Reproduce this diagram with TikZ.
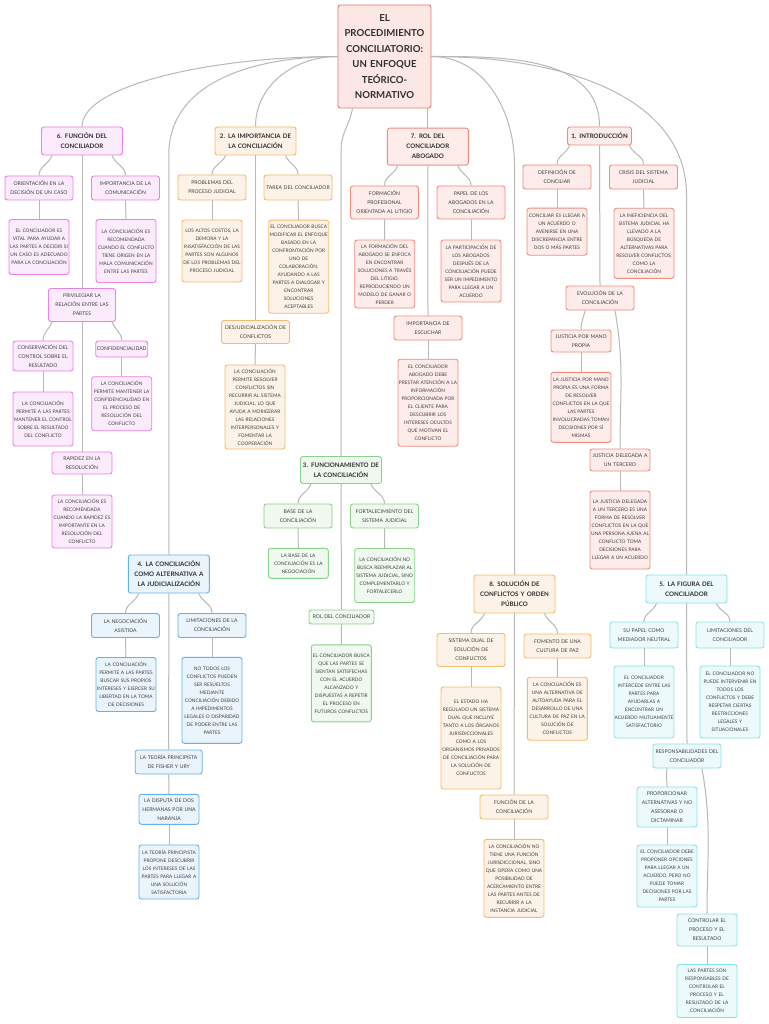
\documentclass[tikz,border=0pt]{standalone}
\usepackage{fontspec}
\setmainfont{Lato}
\definecolor{rootline}{HTML}{E97670}
\definecolor{rootfill}{HTML}{FDE7E4}
\definecolor{pkline}{HTML}{E882E4}
\definecolor{pkfill}{HTML}{FCEBFC}
\definecolor{orline}{HTML}{F6BA6E}
\definecolor{orfill}{HTML}{FDF2E7}
\definecolor{rdline}{HTML}{EE8C7E}
\definecolor{rdfill}{HTML}{FDECE9}
\definecolor{blline}{HTML}{66B0EA}
\definecolor{blfill}{HTML}{EAF4FC}
\definecolor{grline}{HTML}{8BD08C}
\definecolor{grfill}{HTML}{EFF9EF}
\definecolor{cyline}{HTML}{8AE2E6}
\definecolor{cyfill}{HTML}{ECFAFB}
\definecolor{linkgray}{HTML}{B8B8B8}
\definecolor{textdark}{HTML}{2E2E2E}
\definecolor{textgray}{HTML}{404040}

\begin{document}
\begin{tikzpicture}[x=1pt,y=1pt]
    \fill[white] (0,0) rectangle (768,-1024);
    \useasboundingbox (0,0) rectangle (768,-1024);

    \tikzstyle{box}=[draw, rounded corners=2.5pt, line width=0.9pt, align=center, inner sep=0pt]
    \tikzstyle{root}=[box, draw=rootline, fill=rootfill, text=textdark, font=\fontsize{9.6}{15.5}\selectfont\bfseries, minimum width=93, minimum height=103, text width=91]
    \tikzstyle{head}=[box, text=textdark, font=\fontsize{6.2}{10}\selectfont\bfseries, minimum width=81, text width=80]
    \tikzstyle{item}=[box, text=textgray, font=\fontsize{5.1}{9}\selectfont, minimum width=68, text width=67]
    \tikzstyle{sub}=[item, minimum width=60, text width=59]
    \tikzstyle{note}=[box, text=textgray, font=\fontsize{4.8}{8}\selectfont, minimum width=60, text width=59]
    \tikzstyle{pk}=[draw=pkline, fill=pkfill]
    \tikzstyle{or}=[draw=orline, fill=orfill]
    \tikzstyle{rd}=[draw=rdline, fill=rdfill]
    \tikzstyle{bl}=[draw=blline, fill=blfill]
    \tikzstyle{gr}=[draw=grline, fill=grfill]
    \tikzstyle{cy}=[draw=cyline, fill=cyfill]
    \tikzstyle{link}=[draw=linkgray, line width=1pt]

    \node[root] (root) at (384.5,-56.5) {EL\\PROCEDIMIENTO\\CONCILIATORIO:\\UN ENFOQUE\\TEÓRICO-\\NORMATIVO};

    % 6
    \node[head, pk, minimum height=28] (h6) at (82,-141) {6. FUNCIÓN DEL\\CONCILIADOR};
    \node[item, pk, minimum height=24] (o6a) at (39,-188) {ORIENTACIÓN EN LA\\DECISIÓN DE UN CASO};
    \node[note, pk, minimum height=55] (d6a) at (39,-247) {EL CONCILIADOR ES\\VITAL PARA AYUDAR A\\LAS PARTES A DECIDIR SI\\UN CASO ES ADECUADO\\PARA LA CONCILIACIÓN};
    \node[item, pk, minimum height=24] (o6b) at (125.5,-188) {IMPORTANCIA DE LA\\COMUNICACIÓN};
    \node[note, pk, minimum height=63] (d6b) at (126,-251) {LA CONCILIACIÓN ES\\RECOMENDADA\\CUANDO EL CONFLICTO\\TIENE ORIGEN EN LA\\MALA COMUNICACIÓN\\ENTRE LAS PARTES};
    \node[item, pk, minimum width=67, minimum height=33] (o6c) at (82,-305) {PRIVILEGIAR LA\\RELACIÓN ENTRE LAS\\PARTES};
    \node[sub, pk, minimum height=30] (p6a) at (43,-356) {CONSERVACIÓN DEL\\CONTROL SOBRE EL\\RESULTADO};
    \node[note, pk, minimum height=54] (d6c) at (43,-419) {LA CONCILIACIÓN\\PERMITE A LAS PARTES\\MANTENER EL CONTROL\\SOBRE EL RESULTADO\\DEL CONFLICTO};
    \node[sub, pk, minimum width=52, text width=51, minimum height=16] (p6b) at (121.7,-349) {CONFIDENCIALIDAD};
    \node[note, pk, minimum height=54] (d6d) at (121.7,-403.7) {LA CONCILIACIÓN\\PERMITE MANTENER LA\\CONFIDENCIALIDAD EN\\EL PROCESO DE\\RESOLUCIÓN DEL\\CONFLICTO};
    \node[sub, pk, minimum height=22] (p6c) at (82,-463) {RAPIDEZ EN LA\\RESOLUCIÓN};
    \node[note, pk, minimum height=53] (d6e) at (82,-521.5) {LA CONCILIACIÓN ES\\RECOMENDADA\\CUANDO LA RAPIDEZ ES\\IMPORTANTE EN LA\\RESOLUCIÓN DEL\\CONFLICTO};

    % 2
    \node[head, or, minimum height=28] (h2) at (255.5,-141) {2. LA IMPORTANCIA DE\\LA CONCILIACIÓN};
    \node[item, or, minimum height=25] (o2a) at (212,-187.5) {PROBLEMAS DEL\\PROCESO JUDICIAL};
    \node[note, or, minimum height=62] (d2a) at (212,-251) {LOS ALTOS COSTOS, LA\\DEMORA Y LA\\INSATISFACCIÓN DE LAS\\PARTES SON ALGUNOS\\DE LOS PROBLEMAS DEL\\PROCESO JUDICIAL};
    \node[item, or, minimum height=25] (o2b) at (298,-187.5) {TAREA DEL CONCILIADOR};
    \node[note, or, minimum height=93] (d2b) at (298.7,-266.7) {EL CONCILIADOR BUSCA\\MODIFICAR EL ENFOQUE\\BASADO EN LA\\CONFRONTACIÓN POR\\UNO DE\\COLABORACIÓN,\\AYUDANDO A LAS\\PARTES A DIALOGAR Y\\ENCONTRAR\\SOLUCIONES\\ACEPTABLES};
    \node[item, or, minimum height=23] (o2c) at (255.5,-332) {DESJUDICIALIZACIÓN DE\\CONFLICTOS};
    \node[note, or, minimum height=84] (d2c) at (255,-407) {LA CONCILIACIÓN\\PERMITE RESOLVER\\CONFLICTOS SIN\\RECURRIR AL SISTEMA\\JUDICIAL, LO QUE\\AYUDA A MORIGERAR\\LAS RELACIONES\\INTERPERSONALES Y\\FOMENTAR LA\\COOPERACIÓN};

    % 7
    \node[head, rd, minimum height=37] (h7) at (427.8,-146.7) {7. ROL DEL\\CONCILIADOR\\ABOGADO};
    \node[item, rd, minimum height=33] (o7a) at (384.5,-202.5) {FORMACIÓN\\PROFESIONAL\\ORIENTADA AL LITIGIO};
    \node[note, rd, minimum height=68] (d7a) at (384.7,-274) {LA FORMACIÓN DEL\\ABOGADO SE ENFOCA\\EN ENCONTRAR\\SOLUCIONES A TRAVÉS\\DEL LITIGIO,\\REPRODUCIENDO UN\\MODELO DE GANAR O\\PERDER};
    \node[item, rd, minimum height=33] (o7b) at (471,-202.5) {PAPEL DE LOS\\ABOGADOS EN LA\\CONCILIACIÓN};
    \node[note, rd, minimum height=62] (d7b) at (471,-271) {LA PARTICIPACIÓN DE\\LOS ABOGADOS\\DESPUÉS DE LA\\CONCILIACIÓN PUEDE\\SER UN IMPEDIMENTO\\PARA LLEGAR A UN\\ACUERDO};
    \node[item, rd, minimum height=24] (o7c) at (428,-328) {IMPORTANCIA DE\\ESCUCHAR};
    \node[note, rd, minimum height=87] (d7c) at (428,-402.7) {EL CONCILIADOR\\ABOGADO DEBE\\PRESTAR ATENCIÓN A LA\\INFORMACIÓN\\PROPORCIONADA POR\\EL CLIENTE PARA\\DESCUBRIR LOS\\INTERESES OCULTOS\\QUE MOTIVAN EL\\CONFLICTO};

    % 1
    \node[head, rd, minimum width=64, text width=63, minimum height=18] (h1) at (599.5,-136) {1. INTRODUCCIÓN};
    \node[item, rd, minimum height=24] (o1a) at (557,-177) {DEFINICIÓN DE\\CONCILIAR};
    \node[note, rd, minimum height=47] (d1a) at (557,-231.7) {CONCILIAR ES LLEGAR A\\UN ACUERDO O\\AVENIRSE EN UNA\\DISCREPANCIA ENTRE\\DOS O MÁS PARTES};
    \node[item, rd, minimum height=24] (o1b) at (643.5,-177) {CRISIS DEL SISTEMA\\JUDICIAL};
    \node[note, rd, minimum height=70] (d1b) at (644,-243.3) {LA INEFICIENCIA DEL\\SISTEMA JUDICIAL HA\\LLEVADO A LA\\BÚSQUEDA DE\\ALTERNATIVAS PARA\\RESOLVER CONFLICTOS,\\COMO LA\\CONCILIACIÓN};
    \node[item, rd, minimum height=24] (o1c) at (600,-298) {EVOLUCIÓN DE LA\\CONCILIACIÓN};
    \node[sub, rd, minimum height=22] (p1a) at (581,-341) {JUSTICIA POR MANO\\PROPIA};
    \node[note, rd, minimum height=70] (d1c) at (581,-407.3) {LA JUSTICIA POR MANO\\PROPIA ES UNA FORMA\\DE RESOLVER\\CONFLICTOS EN LA QUE\\LAS PARTES\\INVOLUCRADAS TOMAN\\DECISIONES POR SÍ\\MISMAS};
    \node[sub, rd, minimum height=22] (p1b) at (620,-460) {JUSTICIA DELEGADA A\\UN TERCERO};
    \node[note, rd, minimum height=78] (d1d) at (620,-530) {LA JUSTICIA DELEGADA\\A UN TERCERO ES UNA\\FORMA DE RESOLVER\\CONFLICTOS EN LA QUE\\UNA PERSONA AJENA AL\\CONFLICTO TOMA\\DECISIONES PARA\\LLEGAR A UN ACUERDO};

    % 4
    \node[head, bl, minimum height=38] (h4) at (168.8,-574) {4. LA CONCILIACIÓN\\COMO ALTERNATIVA A\\LA JUDICIALIZACIÓN};
    \node[item, bl, minimum height=24] (o4a) at (125.5,-625.5) {LA NEGOCIACIÓN\\ASISTIDA};
    \node[note, bl, minimum height=54] (d4a) at (126,-684.5) {LA CONCILIACIÓN\\PERMITE A LAS PARTES\\BUSCAR SUS PROPIOS\\INTERESES Y EJERCER SU\\LIBERTAD EN LA TOMA\\DE DECISIONES};
    \node[item, bl, minimum height=24] (o4b) at (212,-625.5) {LIMITACIONES DE LA\\CONCILIACIÓN};
    \node[note, bl, minimum height=86] (d4b) at (212,-700.3) {NO TODOS LOS\\CONFLICTOS PUEDEN\\SER RESUELTOS\\MEDIANTE\\CONCILIACIÓN DEBIDO\\A IMPEDIMENTOS\\LEGALES O DISPARIDAD\\DE PODER ENTRE LAS\\PARTES};
    \node[item, bl, minimum width=67, minimum height=24] (o4c) at (168.7,-762) {LA TEORÍA PRINCIPISTA\\DE FISHER Y URY};
    \node[sub, bl, minimum height=30] (p4a) at (169,-809.3) {LA DISPUTA DE DOS\\HERMANAS POR UNA\\NARANJA};
    \node[note, bl, minimum height=54] (d4c) at (169,-872) {LA TEORÍA PRINCIPISTA\\PROPONE DESCUBRIR\\LOS INTERESES DE LAS\\PARTES PARA LLEGAR A\\UNA SOLUCIÓN\\SATISFACTORIA};

    % 3
    \node[head, gr, minimum height=27] (h3) at (341,-470) {3. FUNCIONAMIENTO DE\\LA CONCILIACIÓN};
    \node[item, gr, minimum height=24] (o3a) at (298,-516) {BASE DE LA\\CONCILIACIÓN};
    \node[note, gr, minimum height=30] (d3a) at (298.3,-563.3) {LA BASE DE LA\\CONCILIACIÓN ES LA\\NEGOCIACIÓN};
    \node[item, gr, minimum height=24] (o3b) at (384.5,-516) {FORTALECIMIENTO DEL\\SISTEMA JUDICIAL};
    \node[note, gr, minimum height=54] (d3b) at (384.7,-575.5) {LA CONCILIACIÓN NO\\BUSCA REEMPLAZAR AL\\SISTEMA JUDICIAL, SINO\\COMPLEMENTARLO Y\\FORTALECERLO};
    \node[item, gr, minimum width=65, text width=64, minimum height=14] (o3c) at (341.5,-617) {ROL DEL CONCILIADOR};
    \node[note, gr, minimum height=77] (d3c) at (341.3,-683.3) {EL CONCILIADOR BUSCA\\QUE LAS PARTES SE\\SIENTAN SATISFECHAS\\CON EL ACUERDO\\ALCANZADO Y\\DISPUESTAS A REPETIR\\EL PROCESO EN\\FUTUROS CONFLICTOS};

    % 8
    \node[head, or, minimum height=38] (h8) at (514.5,-594) {8. SOLUCIÓN DE\\CONFLICTOS Y ORDEN\\PÚBLICO};
    \node[item, or, minimum height=33] (o8a) at (471,-650) {SISTEMA DUAL DE\\SOLUCIÓN DE\\CONFLICTOS};
    \node[note, or, minimum height=102] (d8a) at (471,-738) {EL ESTADO HA\\REGULADO UN SISTEMA\\DUAL QUE INCLUYE\\TANTO A LOS ÓRGANOS\\JURISDICCIONALES\\COMO A LOS\\ORGANISMOS PRIVADOS\\DE CONCILIACIÓN PARA\\LA SOLUCIÓN DE\\CONFLICTOS};
    \node[item, or, minimum width=67, minimum height=24] (o8b) at (557.5,-646) {FOMENTO DE UNA\\CULTURA DE PAZ};
    \node[note, or, minimum height=63] (d8b) at (557.3,-708.7) {LA CONCILIACIÓN ES\\UNA ALTERNATIVA DE\\AUTOAYUDA PARA EL\\DESARROLLO DE UNA\\CULTURA DE PAZ EN LA\\SOLUCIÓN DE\\CONFLICTOS};
    \node[item, or, minimum height=24] (o8c) at (514,-807) {FUNCIÓN DE LA\\CONCILIACIÓN};
    \node[note, or, minimum height=78] (d8c) at (514,-878.3) {LA CONCILIACIÓN NO\\TIENE UNA FUNCIÓN\\JURISDICCIONAL, SINO\\QUE OPERA COMO UNA\\POSIBILIDAD DE\\ACERCAMIENTO ENTRE\\LAS PARTES ANTES DE\\RECURRIR A LA\\INSTANCIA JUDICIAL};

    % 5
    \node[head, cy, minimum height=28] (h5) at (686.5,-589) {5. LA FIGURA DEL\\CONCILIADOR};
    \node[item, cy, minimum height=26] (o5a) at (644,-635) {SU PAPEL COMO\\MEDIADOR NEUTRAL};
    \node[note, cy, minimum height=72] (d5a) at (644,-702) {EL CONCILIADOR\\INTERCEDE ENTRE LAS\\PARTES PARA\\AYUDARLAS A\\ENCONTRAR UN\\ACUERDO MUTUAMENTE\\SATISFACTORIO};
    \node[item, cy, minimum height=26] (o5b) at (730,-635) {LIMITACIONES DEL\\CONCILIADOR};
    \node[note, cy, minimum height=72] (d5b) at (730,-702) {EL CONCILIADOR NO\\PUEDE INTERVENIR EN\\TODOS LOS\\CONFLICTOS Y DEBE\\RESPETAR CIERTAS\\RESTRICCIONES\\LEGALES Y\\SITUACIONALES};
    \node[item, cy, minimum height=24] (o5c) at (687,-756) {RESPONSABILIDADES DEL\\CONCILIADOR};
    \node[sub, cy, minimum height=40] (p5a) at (667,-807) {PROPORCIONAR\\ALTERNATIVAS Y NO\\ASESORAR O\\DICTAMINAR};
    \node[note, cy, minimum height=62] (d5c) at (667,-876) {EL CONCILIADOR DEBE\\PROPONER OPCIONES\\PARA LLEGAR A UN\\ACUERDO, PERO NO\\PUEDE TOMAR\\DECISIONES POR LAS\\PARTES};
    \node[sub, cy, minimum height=32] (p5b) at (707,-930) {CONTROLAR EL\\PROCESO Y EL\\RESULTADO};
    \node[note, cy, minimum height=53] (d5d) at (707,-991) {LAS PARTES SON\\RESPONSABLES DE\\CONTROLAR EL\\PROCESO Y EL\\RESULTADO DE LA\\CONCILIACIÓN};

    \coordinate (t4) at (168.8,-155);
    \coordinate (t3) at (341,-150);
    \coordinate (t8) at (514.5,-165);
    \coordinate (t5) at (686.5,-195);

    % root branches
    \draw [link] (root.west) to[out=180,in=90,out looseness=1.2,in looseness=0.4] (h6.north);
    \draw [link] (root.west) to[out=180,in=90] (t4) -- (h4.north);
    \draw [link] (root.west) to[out=180,in=90] (h2.north);
    \draw [link] ([xshift=-32]root.south) to[out=-100,in=90] (t3) -- (h3.north);
    \draw [link] (h7.north |- root.south) -- (h7.north);
    \draw [link] (root.east) to[out=0,in=90] (t8) -- (h8.north);
    \draw [link] (root.east) to[out=0,in=90] (h1.north);
    \draw [link] (root.east) to[out=0,in=90,out looseness=1.3,in looseness=0.8] (t5) -- (h5.north);

    % sections
    \foreach \h/\l/\r/\c in {h6/o6a/o6b/o6c, h2/o2a/o2b/o2c, h7/o7a/o7b/o7c, h1/o1a/o1b/o1c,
                             h4/o4a/o4b/o4c, h3/o3a/o3b/o3c, h8/o8a/o8b/o8c, h5/o5a/o5b/o5c, o6c/p6a/p6b/p6c}{
        \draw [link] ([xshift=-30]\h.south) to[out=-110,in=90] (\l.north);
        \draw [link] ([xshift=30]\h.south) to[out=-70,in=90] (\r.north);
        \draw [link] (\h.south) -- (\c.north);
    }
    \draw [link] ([xshift=-15]o1c.south) to[out=-100,in=90] (p1a.north);
    \draw [link] ([xshift=15]o1c.south) to[out=-80,in=90] (p1b.north);
    \draw [link] ([xshift=-20]o5c.south) to[out=-100,in=90] (p5a.north);
    \draw [link] ([xshift=15]o5c.south) to[out=-80,in=90] (p5b.north);

    \foreach \a/\b in {o6a/d6a, o6b/d6b, p6a/d6c, p6b/d6d, p6c/d6e, o2a/d2a, o2b/d2b, o2c/d2c,
                       o7a/d7a, o7b/d7b, o7c/d7c, o1a/d1a, o1b/d1b, p1a/d1c, p1b/d1d,
                       o4a/d4a, o4b/d4b, o4c/p4a, p4a/d4c, o3a/d3a, o3b/d3b, o3c/d3c,
                       o8a/d8a, o8b/d8b, o8c/d8c, o5a/d5a, o5b/d5b, p5a/d5c, p5b/d5d}
        \draw [link] (\a.south) -- (\b.north);

\end{tikzpicture}
\end{document}
